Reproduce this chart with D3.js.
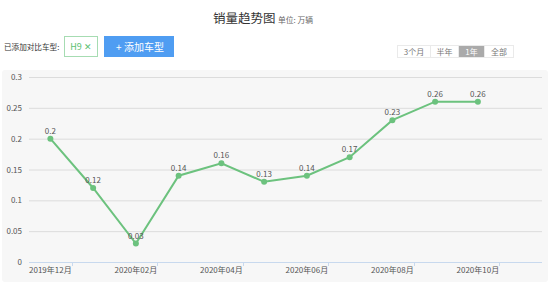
<!DOCTYPE html>
<html>
<head>
<meta charset="utf-8">
<script src="https://cdn.jsdelivr.net/npm/d3@7/dist/d3.min.js"></script>
<style>
  body { margin: 0; background: #fff; font-family: "Noto Sans CJK SC", "Open Sans", sans-serif; }
</style>
</head>
<body>
<div id="chart"></div>
<script>
const months = ["2019年12月","2020年01月","2020年02月","2020年03月","2020年04月","2020年05月",
  "2020年06月","2020年07月","2020年08月","2020年09月","2020年10月","2020年11月"];
const sales = [0.2, 0.12, 0.03, 0.14, 0.16, 0.13, 0.14, 0.17, 0.23, 0.26, 0.26, null];
const yTicks = [0, 0.05, 0.1, 0.15, 0.2, 0.25, 0.3];
const rangeBtns = ["3个月", "半年", "1年", "全部"];
const activeBtn = "1年";

const width = 554, height = 292;
const svg = d3.select("#chart").append("svg")
  .attr("width", width).attr("height", height)
  .style("font-family", "'Noto Sans CJK SC', 'Open Sans', sans-serif");

// header
svg.append("text").attr("x", 213).attr("y", 23)
  .attr("font-size", 12.5).attr("fill", "#333").text("销量趋势图");
svg.append("text").attr("x", 278).attr("y", 23)
  .attr("font-size", 7.8).attr("fill", "#666").text("单位: 万辆");

svg.append("text").attr("x", 4).attr("y", 49.5)
  .attr("font-size", 7.6).attr("fill", "#333").text("已添加对比车型:");
svg.append("rect").attr("x", 64.5).attr("y", 36.5).attr("width", 33).attr("height", 20)
  .attr("fill", "#fff").attr("stroke", "#a6dcb2");
svg.append("text").attr("x", 81).attr("y", 50).attr("text-anchor", "middle")
  .attr("font-size", 9).attr("fill", "#5cbf72").text("H9 ✕");
svg.append("rect").attr("x", 104).attr("y", 36).attr("width", 70).attr("height", 21)
  .attr("fill", "#4f9df2");
svg.append("text").attr("x", 140).attr("y", 50.5).attr("text-anchor", "middle")
  .attr("font-size", 10).attr("fill", "#fff").text("+ 添加车型");

// range buttons
const btnX = [397, 430, 458, 484, 513];
const btns = svg.append("g");
rangeBtns.forEach((b, i) => {
  const on = b === activeBtn;
  btns.append("rect").attr("x", btnX[i] + 0.5).attr("y", 45.5)
    .attr("width", btnX[i + 1] - btnX[i]).attr("height", 12)
    .attr("fill", on ? "#aaa" : "#fff").attr("stroke", "#eaeaea");
  btns.append("text").attr("x", (btnX[i] + btnX[i + 1]) / 2 + 0.5).attr("y", 55)
    .attr("text-anchor", "middle").attr("font-size", 8)
    .attr("fill", on ? "#fff" : "#777").text(b);
});

// panel
svg.append("rect").attr("x", 2).attr("y", 70).attr("width", 546).attr("height", 212)
  .attr("rx", 3).attr("fill", "#f7f7f7");

const pl = 29, pr = 542, pt = 77, pb = 262;
const x = d3.scaleBand().domain(months).range([pl, pr]);
const y = d3.scaleLinear().domain([0, 0.3]).range([pb, pt]);

// grid + y labels
svg.append("g").selectAll("line").data(yTicks.slice(1)).join("line")
  .attr("x1", pl).attr("x2", pr)
  .attr("y1", d => y(d) + 0.5).attr("y2", d => y(d) + 0.5)
  .attr("stroke", "#dcdcdc");
svg.append("g").selectAll("text").data(yTicks).join("text")
  .attr("x", 22).attr("y", d => y(d) + 3).attr("text-anchor", "end")
  .attr("font-size", 8).attr("fill", "#555").text(d => d);

// x axis
const xa = svg.append("g");
xa.append("line").attr("x1", pl).attr("x2", pr)
  .attr("y1", pb + 0.5).attr("y2", pb + 0.5).attr("stroke", "#c8d9ee");
const shown = months.filter((m, i) => i % 2 === 0 && i < 11);
xa.selectAll("line.tick").data(shown).join("line").attr("class", "tick")
  .attr("x1", d => Math.round(x(d) + x.bandwidth()) + 0.5)
  .attr("x2", d => Math.round(x(d) + x.bandwidth()) + 0.5)
  .attr("y1", pb).attr("y2", pb + 4).attr("stroke", "#c8d9ee");
xa.selectAll("text").data(shown).join("text")
  .attr("x", d => x(d) + x.bandwidth() / 2).attr("y", pb + 11)
  .attr("text-anchor", "middle").attr("font-size", 8).attr("fill", "#555").text(d => d);

// line
const pts = months.map((m, i) => ({ m, v: sales[i] })).filter(d => d.v != null);
const cx = d => x(d.m) + x.bandwidth() / 2;
svg.append("path").datum(pts)
  .attr("d", d3.line().x(cx).y(d => y(d.v)))
  .attr("fill", "none").attr("stroke", "#6cc27e").attr("stroke-width", 2);
svg.append("g").selectAll("circle").data(pts).join("circle")
  .attr("cx", cx).attr("cy", d => y(d.v)).attr("r", 3).attr("fill", "#6cc27e");
svg.append("g").selectAll("text").data(pts).join("text")
  .attr("x", cx).attr("y", d => y(d.v) - 5).attr("text-anchor", "middle")
  .attr("font-size", 8).attr("fill", "#555").text(d => d.v);
</script>
</body>
</html>
